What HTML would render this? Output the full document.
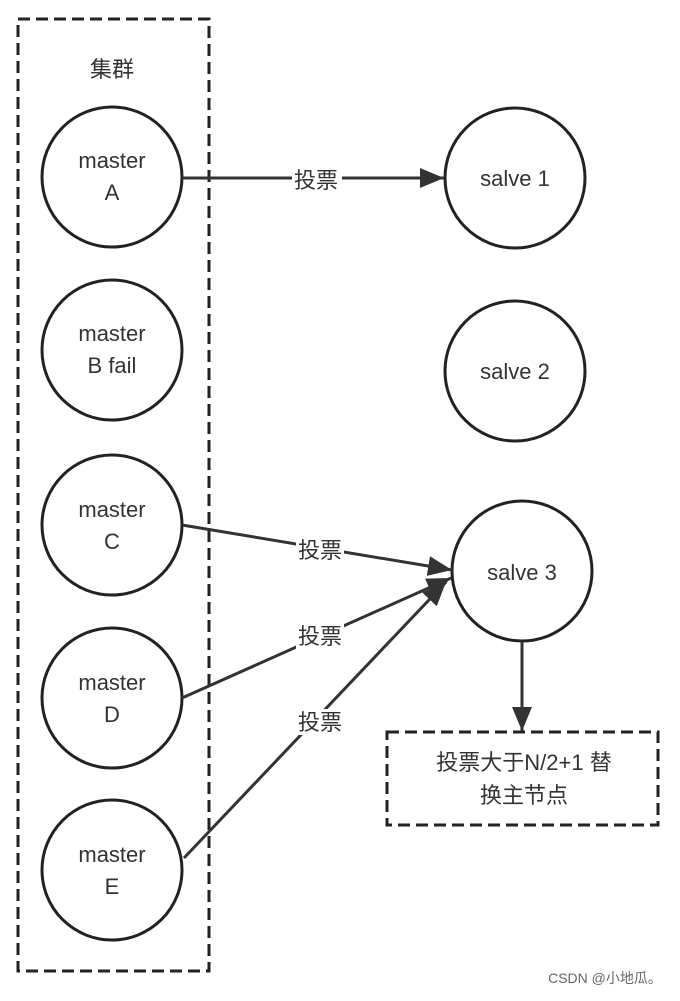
<!DOCTYPE html>
<html><head><meta charset="utf-8"><style>
body{margin:0;background:#fff}
svg text{font-family:"Liberation Sans","Noto Sans CJK SC",sans-serif;fill:#333;font-size:22px;text-anchor:middle}
</style></head><body>
<svg width="680" height="996" viewBox="0 0 680 996" xmlns="http://www.w3.org/2000/svg">
<defs>
<marker id="b" markerWidth="24" markerHeight="20" refX="24" refY="10" orient="auto" markerUnits="userSpaceOnUse" viewBox="0 0 24 20"><path d="M0,0 L24,10 L0,20 z" fill="#333"/></marker></defs>
<rect x="18" y="19" width="191" height="952" fill="none" stroke="#222" stroke-width="3" stroke-dasharray="12,6"/>
<text x="112" y="77">集群</text>
<g fill="#fff" stroke="#222" stroke-width="3">
<circle cx="112" cy="177" r="70"/><circle cx="112" cy="350" r="70"/><circle cx="112" cy="525" r="70"/><circle cx="112" cy="698" r="70"/><circle cx="112" cy="870" r="70"/>
<circle cx="515" cy="178" r="70"/><circle cx="515" cy="371" r="70"/><circle cx="522" cy="571" r="70"/>
</g>
<text x="112" y="168">master</text><text x="112" y="200">A</text>
<text x="112" y="341">master</text><text x="112" y="373">B fail</text>
<text x="112" y="517">master</text><text x="112" y="549">C</text>
<text x="112" y="690">master</text><text x="112" y="722">D</text>
<text x="112" y="862">master</text><text x="112" y="894">E</text>
<text x="515" y="186">salve 1</text><text x="515" y="379">salve 2</text><text x="522" y="580">salve 3</text>
<g stroke="#333" stroke-width="3" fill="none" marker-end="url(#b)">
<line x1="182" y1="178" x2="444" y2="178"/>
<line x1="182" y1="525" x2="452" y2="570"/>
<line x1="182" y1="698" x2="451" y2="578"/>
<line x1="184" y1="858" x2="446" y2="582"/>
<line x1="522" y1="641" x2="522" y2="731"/>
</g>
<g fill="#fff"><rect x="292" y="166" width="50" height="26"/><rect x="296" y="537" width="48" height="26"/><rect x="296" y="623" width="48" height="26"/><rect x="296" y="709" width="48" height="26"/></g>
<text x="316" y="188">投票</text><text x="320" y="558">投票</text><text x="320" y="644">投票</text><text x="320" y="730">投票</text>
<rect x="387" y="732" width="271" height="93" fill="none" stroke="#222" stroke-width="3" stroke-dasharray="12,6"/>
<text x="524" y="770">投票大于N/2+1 替</text><text x="524" y="803">换主节点</text>
<text x="605" y="983" style="font-size:14px;fill:#666">CSDN @小地瓜。</text>
</svg>
</body></html>
